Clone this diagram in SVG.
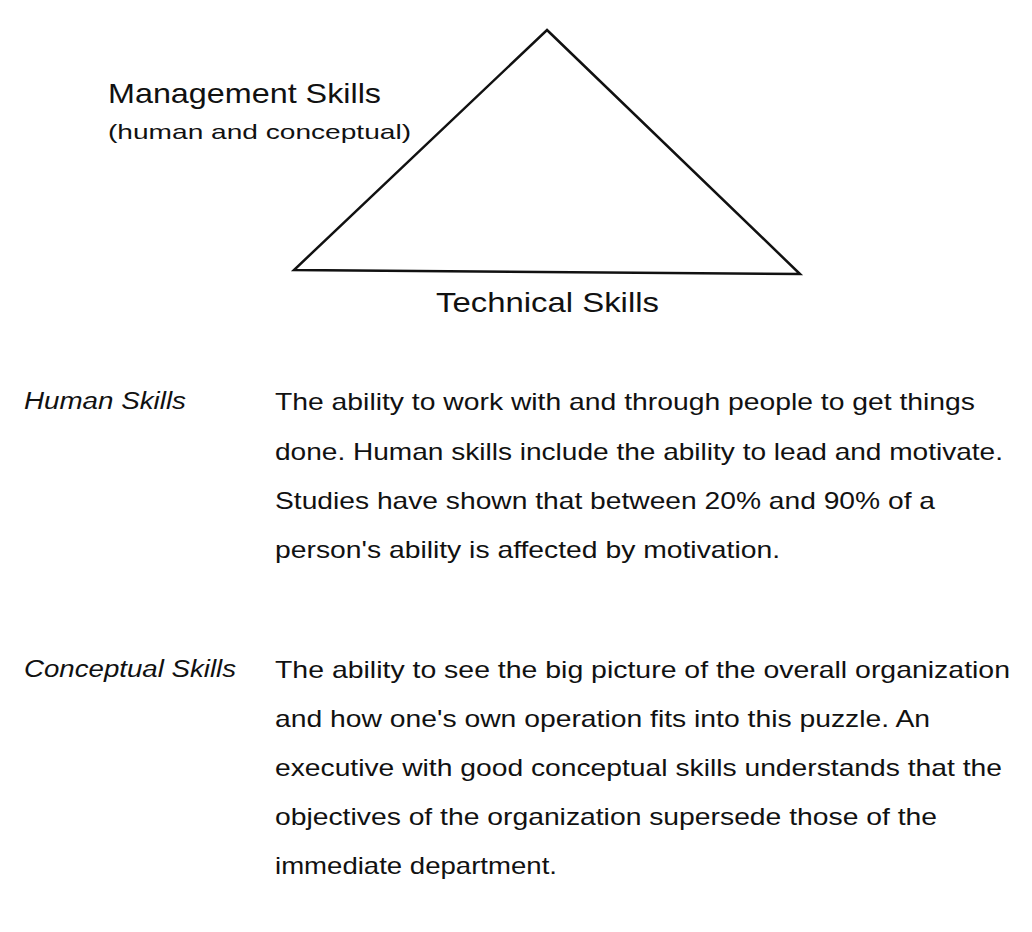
<svg xmlns="http://www.w3.org/2000/svg" width="1032" height="932" viewBox="0 0 1032 932">
<style>
text{font-family:"Liberation Sans",Arial,sans-serif;fill:#111;}
.big{font-size:28px;}
.sub{font-size:21px;}
.lab{font-size:23px;font-style:italic;}
.body{font-size:24px;}
.tri{fill:none;stroke:#111;stroke-width:2.5;stroke-linejoin:miter;}
</style>
<rect width="1032" height="932" fill="#fff"/>
<g id="triangle">
<path class="tri" d="M547,30 L800,274 L294,270 Z"/>
</g>
<g id="management">
<text class="big" x="108" y="103" textLength="273" lengthAdjust="spacingAndGlyphs">Management Skills</text>
<text class="sub" x="108" y="139" textLength="303" lengthAdjust="spacingAndGlyphs">(human and conceptual)</text>
</g>
<g id="technical">
<text class="big" x="436" y="312" textLength="223" lengthAdjust="spacingAndGlyphs">Technical Skills</text>
</g>
<g id="human">
<text class="lab" x="24" y="409" textLength="162" lengthAdjust="spacingAndGlyphs">Human Skills</text>
<text class="body" x="275" y="410" textLength="700" lengthAdjust="spacingAndGlyphs">The ability to work with and through people to get things</text>
<text class="body" x="275" y="460" textLength="728" lengthAdjust="spacingAndGlyphs">done. Human skills include the ability to lead and motivate.</text>
<text class="body" x="275" y="509" textLength="660" lengthAdjust="spacingAndGlyphs">Studies have shown that between 20% and 90% of a</text>
<text class="body" x="275" y="558" textLength="505" lengthAdjust="spacingAndGlyphs">person's ability is affected by motivation.</text>
</g>
<g id="conceptual">
<text class="lab" x="24" y="677" textLength="212" lengthAdjust="spacingAndGlyphs">Conceptual Skills</text>
<text class="body" x="275" y="678" textLength="735" lengthAdjust="spacingAndGlyphs">The ability to see the big picture of the overall organization</text>
<text class="body" x="275" y="727" textLength="655" lengthAdjust="spacingAndGlyphs">and how one's own operation fits into this puzzle. An</text>
<text class="body" x="275" y="776" textLength="727" lengthAdjust="spacingAndGlyphs">executive with good conceptual skills understands that the</text>
<text class="body" x="275" y="825" textLength="662" lengthAdjust="spacingAndGlyphs">objectives of the organization supersede those of the</text>
<text class="body" x="275" y="874" textLength="282" lengthAdjust="spacingAndGlyphs">immediate department.</text>
</g>
<g id="connectors"></g>
</svg>
